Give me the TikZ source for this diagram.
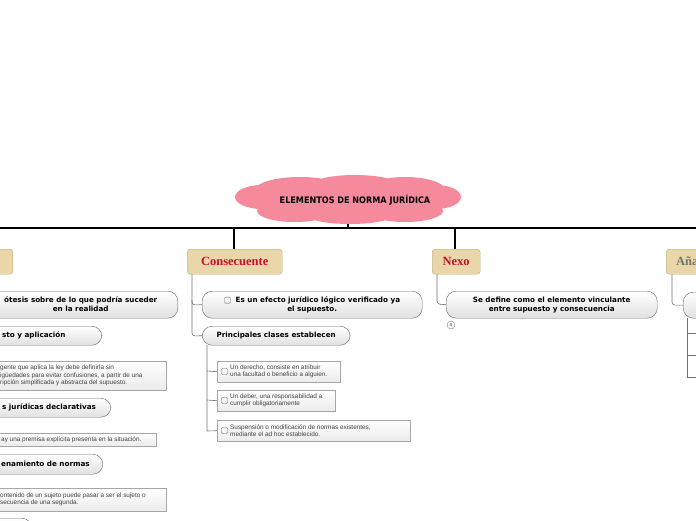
\documentclass[tikz,border=0pt]{standalone}
\usepackage{fontspec}
\setmainfont{DejaVu Sans}
\newfontfamily\titlefont{DejaVu Sans Condensed}
\newfontfamily\labfont{Liberation Serif}
\newfontfamily\thinfont{Liberation Sans}
\definecolor{pinkc}{HTML}{F48A9B}
\definecolor{tanc}{HTML}{E9D6A9}
\definecolor{redc}{HTML}{C8102E}
\definecolor{edgec}{HTML}{707070}
\tikzset{
  x=1pt,y=-1pt,
  lab/.style={rounded corners=3pt,fill=tanc,draw=tanc!80!black,inner sep=0pt,
    font=\labfont\bfseries\fontsize{12.5}{12.5}\selectfont,text=redc},
  pill/.style={rounded corners=10pt,draw=black!60,top color=white,bottom color=black!12,
    inner sep=0pt,font=\bfseries\fontsize{7.2}{9}\selectfont,align=center},
  ptxt/.style={inner sep=0pt,font=\bfseries\fontsize{7.2}{9}\selectfont,align=center,anchor=west},
  tbox/.style={draw=black!35,top color=white,bottom color=black!8,inner sep=0pt,
    font=\thinfont\fontsize{6.4}{7.6}\selectfont,align=left,text=black!75},
  btxt/.style={inner sep=0pt,font=\thinfont\fontsize{6.4}{7.6}\selectfont,align=left,text=black!75,anchor=west},
  chk/.style={draw=black!60,rounded corners=1pt,minimum size=6pt,inner sep=0pt},
  conn/.style={draw=edgec,line width=0.6pt},
  main/.style={draw=black,line width=1.1pt},
}
\begin{document}
\begin{tikzpicture}
\useasboundingbox (0,0) rectangle (696,520);
\clip (0,0) rectangle (696,520);
% title cloud
\fill[pinkc] (348,201) ellipse [x radius=100,y radius=16]
  (262,197) ellipse [x radius=27,y radius=12]
  (436,197) ellipse [x radius=25,y radius=12]
  (300,190) ellipse [x radius=45,y radius=13]
  (355,186) ellipse [x radius=45,y radius=11]
  (405,190) ellipse [x radius=40,y radius=13]
  (295,211) ellipse [x radius=38,y radius=11]
  (350,214) ellipse [x radius=45,y radius=10]
  (405,211) ellipse [x radius=38,y radius=11];
\coordinate (title) at (348,224);
\node[font=\titlefont\bfseries\fontsize{9}{9}\selectfont] (tt) at (355,200) {ELEMENTOS DE NORMA JURÍDICA};
% main bus
\coordinate (bL) at (0,228); \coordinate (bR) at (696,228);
\coordinate (bt) at (348,228);
\draw[main] (bL) -- (bR);
\draw[main] (title) -- (bt);
% labels
\node[lab,minimum width=95pt,minimum height=25pt,anchor=north west] (cons) at (187,249) {Consecuente};
\node[lab,minimum width=48pt,minimum height=25pt,anchor=north west] (nexo) at (432,249) {Nexo};
\node[lab,minimum width=30pt,minimum height=25pt,anchor=north east] (lft) at (13,249) {};
\node[lab,minimum width=50pt,minimum height=25pt,anchor=north west,text=black!55] (anad) at (666,249) {\hspace*{8pt}Añadir};
\draw[main] (234,228) -- (cons.north -| 234,249);
\draw[main] (455,228) -- (455,249);
% Consecuente subtree
\node[pill,minimum width=220pt,minimum height=27pt,anchor=north west] (c1) at (202,291) {\raisebox{-1pt}{\tikz\node[chk]{};}\ \ Es un efecto jurídico lógico verificado ya\\el supuesto.};
\node[pill,minimum width=148pt,minimum height=19pt,anchor=north west] (c2) at (202,326) {Principales clases establecen};
\draw[conn,rounded corners=3pt] (192,274) -- (192,305) -- (c1.west);
\draw[conn,rounded corners=3pt] (192,300) -- (192,336) -- (c2.west);
\node[tbox,minimum width=123pt,minimum height=21pt,anchor=north west] (d1) at (217,361) {};
\node[tbox,minimum width=118pt,minimum height=21pt,anchor=north west] (d2) at (217,390) {};
\node[tbox,minimum width=193pt,minimum height=21pt,anchor=north west] (d3) at (217,420) {};
\node[chk] (k1) at (224.5,371.5) {};
\node[chk] (k2) at (224.5,400.5) {};
\node[chk] (k3) at (224.5,430.5) {};
\node[btxt] (t1) at (230,371.5) {Un derecho, consiste en atribuir\\una facultad o beneficio a alguien.};
\node[btxt] (t2) at (230,400.5) {Un deber, una responsabilidad a\\cumplir obligatoriamente};
\node[btxt] (t3) at (230,430.5) {Suspensión o modificación de normas existentes,\\mediante el ad hoc establecido.};
\draw[conn] (207,345) -- (207,431) -- (d3.west);
\draw[conn] (207,371) -- (d1.west);
\draw[conn] (207,400) -- (d2.west);
% Nexo subtree
\node[pill,minimum width=211pt,minimum height=27pt,anchor=north west] (n1) at (446,291) {Se define como el elemento vinculante\\entre supuesto y consecuencia};
\draw[conn,rounded corners=3pt] (437,274) -- (437,304) -- (n1.west);
\node[circle,draw=black!50,inner sep=0pt,minimum size=8pt,font=\fontsize{4}{4}\selectfont] (n4) at (451,325) {4};
% Left column (partially visible)
\node[pill,minimum width=200pt,minimum height=27pt,anchor=north east] (l1) at (178,291) {};
\node[ptxt] (l1t) at (4,304.5) {ótesis sobre de lo que podría suceder\\en la realidad};
\node[pill,minimum width=130pt,minimum height=19pt,anchor=north east] (l2) at (102,326) {};
\node[ptxt] (l2t) at (2,335.5) {sto y aplicación};
\node[tbox,minimum width=200pt,minimum height=29pt,anchor=north east] (l3) at (166,361) {};
\node[btxt] (l3t) at (0,375.5) {gente que aplica la ley debe definirla sin\\igüedades para evitar confusiones, a partir de una\\ripción simplificada y abstracta del supuesto.};
\node[pill,minimum width=160pt,minimum height=19pt,anchor=north east] (l4) at (111,398) {};
\node[ptxt] (l4t) at (2,407.5) {s jurídicas declarativas};
\node[tbox,minimum width=170pt,minimum height=13pt,anchor=north east] (l5) at (156,433) {};
\node[btxt] (l5t) at (1,439.5) {ay una premisa explícita presenta en la situación.};
\node[pill,minimum width=150pt,minimum height=20pt,anchor=north east] (l6) at (103,454) {};
\node[ptxt] (l6t) at (1,464) {enamiento de normas};
\node[tbox,minimum width=200pt,minimum height=23pt,anchor=north east] (l7) at (166,488) {};
\node[btxt] (l7t) at (0,499.5) {ontenido de un sujeto puede pasar a ser el sujeto o\\secuencia de una segunda.};
\node[pill,minimum width=60pt,minimum height=20pt,anchor=north east] (l8) at (32,518) {};
% Right column (partially visible)
\node[pill,minimum width=60pt,minimum height=26pt,anchor=north west] (r1) at (683,292) {};
\draw[conn,rounded corners=3pt] (672,274) -- (672,305) -- (r1.west);
\coordinate (r2) at (696,333); \coordinate (r3) at (696,355); \coordinate (r4) at (696,377);
\draw[conn] (687,318) -- (687,377) -- (r4);
\draw[conn] (687,333) -- (r2);
\draw[conn] (687,355) -- (r3);
\end{tikzpicture}
\end{document}
